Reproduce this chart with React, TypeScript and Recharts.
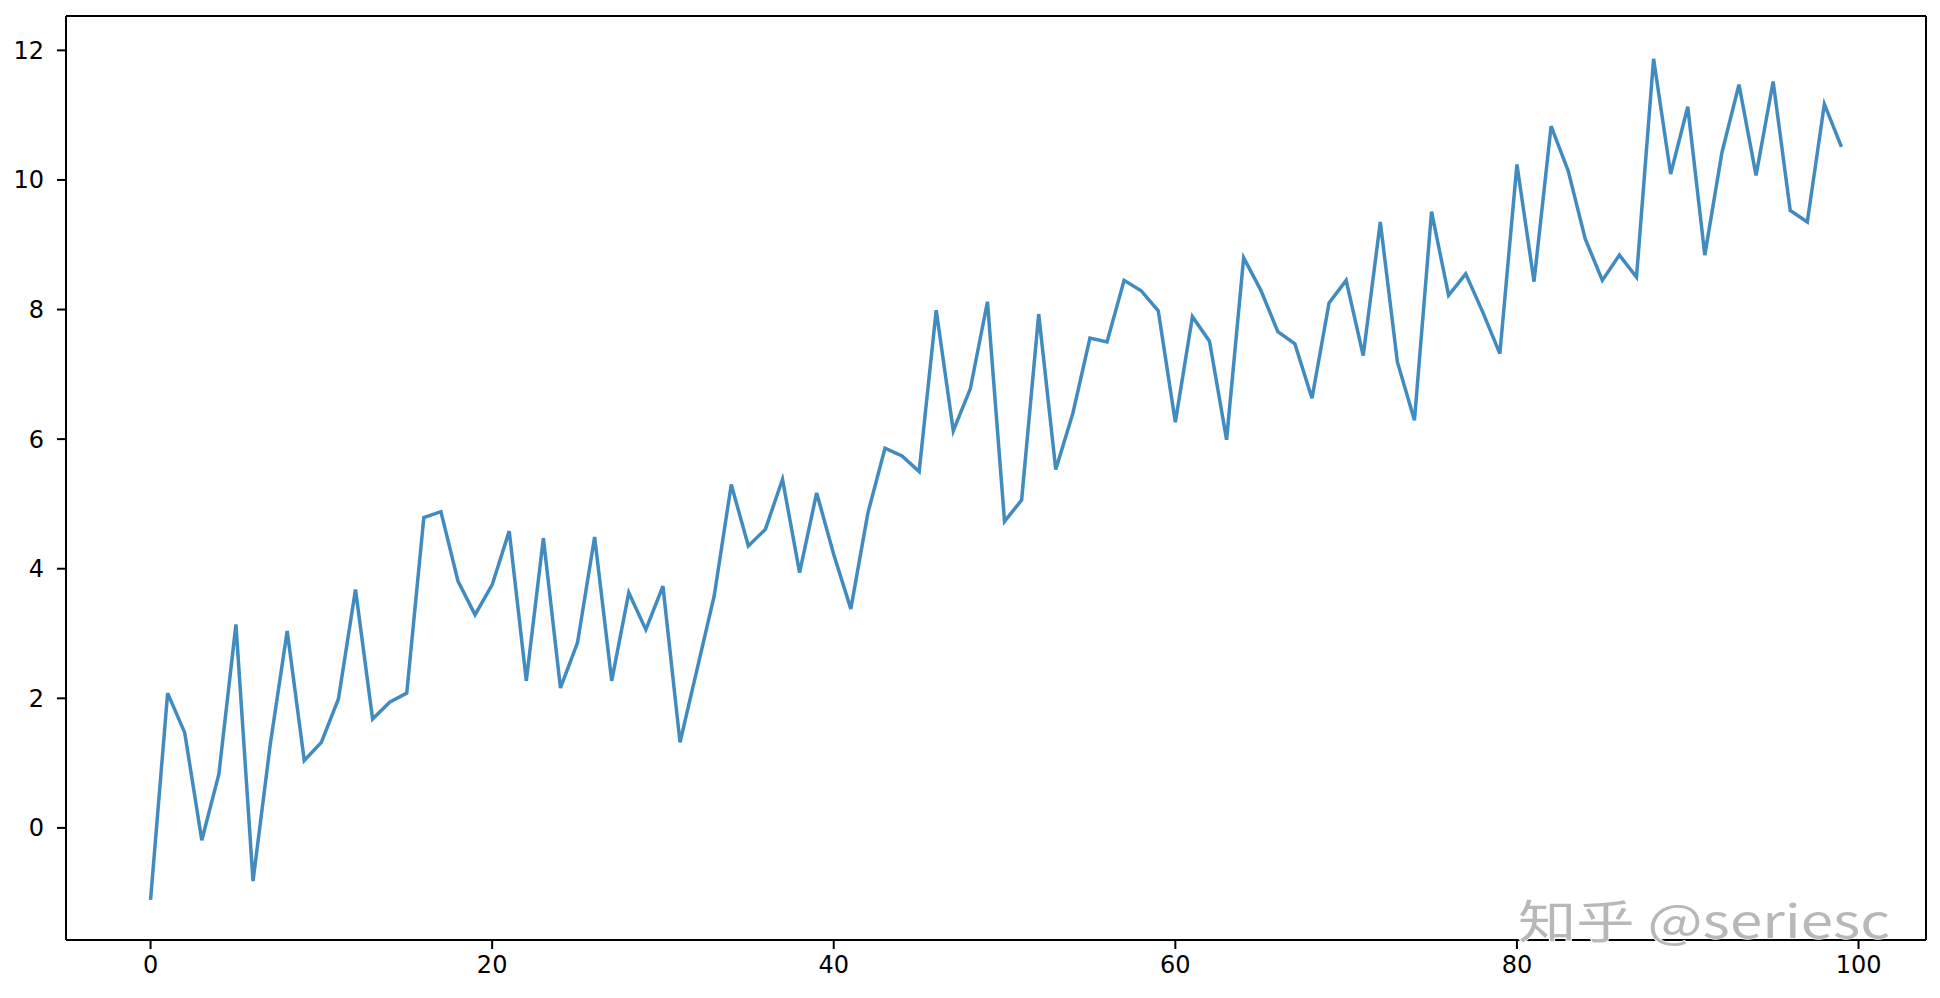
import { LineChart, Line, XAxis, YAxis, ReferenceLine } from "recharts";

// series values (index 0..99)
const yValues = [
  -1.11, 2.08, 1.47, -0.19, 0.83, 3.14, -0.82, 1.27, 3.04, 1.04,
  1.32, 1.99, 3.68, 1.68, 1.94, 2.08, 4.79, 4.88, 3.81, 3.29,
  3.75, 4.58, 2.27, 4.47, 2.16, 2.86, 4.49, 2.27, 3.63, 3.06,
  3.73, 1.32, 2.45, 3.58, 5.3, 4.35, 4.61, 5.38, 3.94, 5.17,
  4.22, 3.38, 4.86, 5.86, 5.74, 5.5, 7.99, 6.13, 6.78, 8.12,
  4.73, 5.06, 7.93, 5.53, 6.4, 7.56, 7.5, 8.45, 8.29, 7.98,
  6.26, 7.89, 7.51, 5.99, 8.8, 8.3, 7.66, 7.47, 6.63, 8.1,
  8.45, 7.29, 9.35, 7.19, 6.29, 9.51, 8.22, 8.55, 7.96, 7.32,
  10.24, 8.43, 10.83, 10.14, 9.09, 8.45, 8.84, 8.5, 11.87, 10.09,
  11.13, 8.84, 10.42, 11.47, 10.07, 11.52, 9.53, 9.35, 11.17, 10.51,
];
const xIndex = yValues.map((_, i) => i);
const xTicks = [0, 20, 40, 60, 80, 100];
const yTicks = [0, 2, 4, 6, 8, 10, 12];
const xDomain = [-4.95, 103.95];
const yDomain = [-1.73, 12.53];

const data = yValues.map((y, i) => ({ x: xIndex[i], y }));

const tickStyle = { fill: "#000", fontSize: 24, fontFamily: "DejaVu Sans" };
const axisLine = { stroke: "#000", strokeWidth: 2 };

export default function App() {
  return (
    <div style={{ position: "absolute", left: 0, top: 0, width: 1940, height: 998, background: "#fff" }}>
      <LineChart width={1940} height={998} data={data} margin={{ top: 16, right: 14, bottom: 0, left: 0 }}>
        <XAxis
          dataKey="x"
          type="number"
          domain={xDomain}
          ticks={xTicks}
          allowDataOverflow
          height={58}
          tickSize={9}
          tickMargin={7}
          tick={tickStyle}
          axisLine={axisLine}
          tickLine={axisLine}
        />
        <YAxis
          type="number"
          domain={yDomain}
          ticks={yTicks}
          allowDataOverflow
          width={66}
          tickSize={9}
          tickMargin={13}
          tick={tickStyle}
          axisLine={axisLine}
          tickLine={axisLine}
        />
        {/* top and right spines */}
        <ReferenceLine y={yDomain[1]} stroke="#000" strokeWidth={2} ifOverflow="visible" />
        <ReferenceLine x={xDomain[1]} stroke="#000" strokeWidth={2} ifOverflow="visible" />
        <Line
          dataKey="y"
          type="linear"
          stroke="#408bbf"
          strokeWidth={3.5}
          dot={false}
          isAnimationActive={false}
        />
      </LineChart>
      <svg width={1940} height={998} style={{ position: "absolute", left: 0, top: 0, pointerEvents: "none" }}>
        <text
          x={1518}
          y={938}
          textLength={372}
          lengthAdjust="spacingAndGlyphs"
          fontSize={46}
          fontFamily="Noto Sans CJK SC"
          fill="#b8b8b8"
          stroke="#ffffff"
          strokeWidth={1.5}
          paintOrder="stroke"
        >
          知乎 @seriesc
        </text>
      </svg>
    </div>
  );
}
